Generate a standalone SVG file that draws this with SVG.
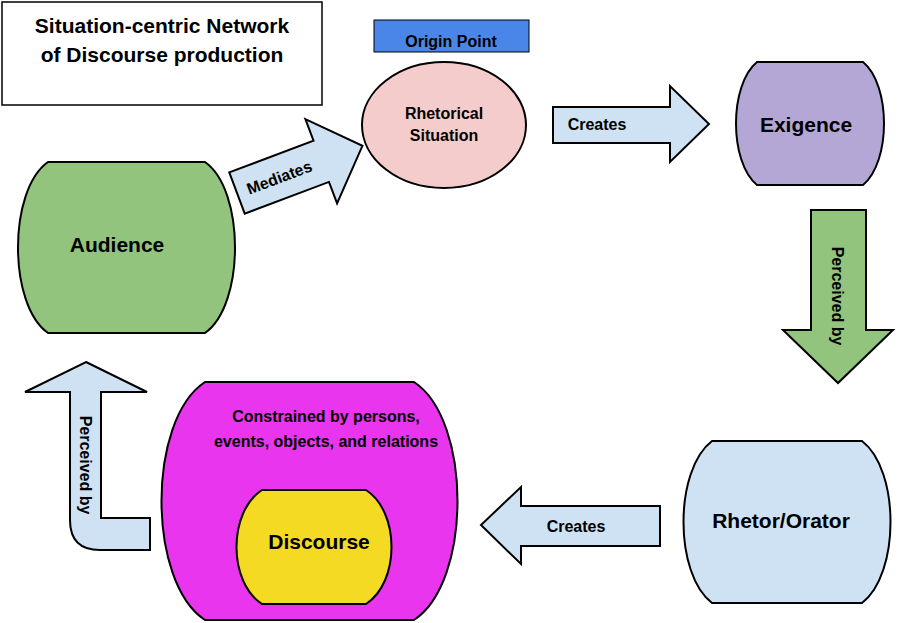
<svg xmlns="http://www.w3.org/2000/svg" width="907" height="623" viewBox="0 0 907 623">
<style>
text{font-family:"Liberation Sans",Arial,sans-serif;font-weight:bold;fill:#000;text-anchor:middle}
.s{stroke:#000;stroke-width:2}
.a{fill:#cfe2f3;stroke:#000;stroke-width:2;stroke-linejoin:miter}
</style>
<rect width="907" height="623" fill="#fff"/>
<g id="title"><rect x="2" y="2" width="320" height="103" fill="#fff" stroke="#000" stroke-width="1.5"/>
<text x="162" y="33" font-size="21">Situation-centric Network</text><text x="162" y="62" font-size="21">of Discourse production</text></g>
<g id="origin"><rect x="374" y="20" width="155" height="32" fill="#4a86e8" stroke="#000" stroke-width="1"/><text x="451" y="47" font-size="16">Origin Point</text></g>
<g id="situation"><ellipse cx="444" cy="125" rx="82" ry="63" fill="#f4cccc" class="s"/><text x="444" y="119" font-size="16">Rhetorical</text><text x="444" y="141" font-size="16">Situation</text></g>
<g id="audience"><path d="M48 162 L205 162 C245 190 245 305 205 333 L48 333 C8 305 8 190 48 162 Z" fill="#93c47d" class="s"/><text x="117" y="252" font-size="21">Audience</text></g>
<g id="exigence"><path d="M757 62 L863 62 C891 85 891 162 863 185 L757 185 C729 162 729 85 757 62 Z" fill="#b4a7d6" class="s"/><text x="806" y="132" font-size="21">Exigence</text></g>
<g id="rhetor"><path d="M712 441 L862 441 C900 470 900 574 862 603 L712 603 C674 574 674 470 712 441 Z" fill="#cfe2f3" class="s"/><text x="781" y="528" font-size="21">Rhetor/Orator</text></g>
<g id="constraints"><path d="M205 382 L414 382 C472 420 472 582 414 620 L205 620 C147 582 147 420 205 382 Z" fill="#e936ee" class="s"/><text x="326" y="422" font-size="16" font-weight="normal">Constrained by persons,</text><text x="326" y="447" font-size="16" font-weight="normal">events, objects, and relations</text></g>
<g id="discourse"><path d="M262 490 L366 490 C400 512 400 582 366 604 L262 604 C228 582 228 512 262 490 Z" fill="#f4da22" class="s"/><text x="319" y="549" font-size="21">Discourse</text></g>
<g id="connectors">
<g transform="translate(237 193) rotate(-20.6)"><path class="a" d="M0 -22 L90 -22 L90 -45 L134 0 L90 45 L90 22 L0 22 Z"/><text x="45" y="6" font-size="16">Mediates</text></g>
<path class="a" d="M553 107 L670 107 L670 86 L709 124 L670 162 L670 143 L553 143 Z"/><text x="597" y="130" font-size="16">Creates</text>
<path d="M811 210 L866 210 L866 330 L893 330 L838 383 L783 330 L811 330 Z" fill="#93c47d" stroke="#000" stroke-width="2"/><text transform="translate(832 296) rotate(90)" x="0" y="0" font-size="16">Perceived by</text>
<path class="a" d="M660 506 L521 506 L521 487 L481 525 L521 564 L521 546 L660 546 Z"/><text x="576" y="532" font-size="16">Creates</text>
<path class="a" d="M86 362 L147 392 L101 392 L101 518 L150 518 L150 550 L100 550 Q70 550 70 520 L70 392 L25 392 Z"/><text transform="translate(80 465) rotate(90)" font-size="16">Perceived by</text>
</g>
</svg>
